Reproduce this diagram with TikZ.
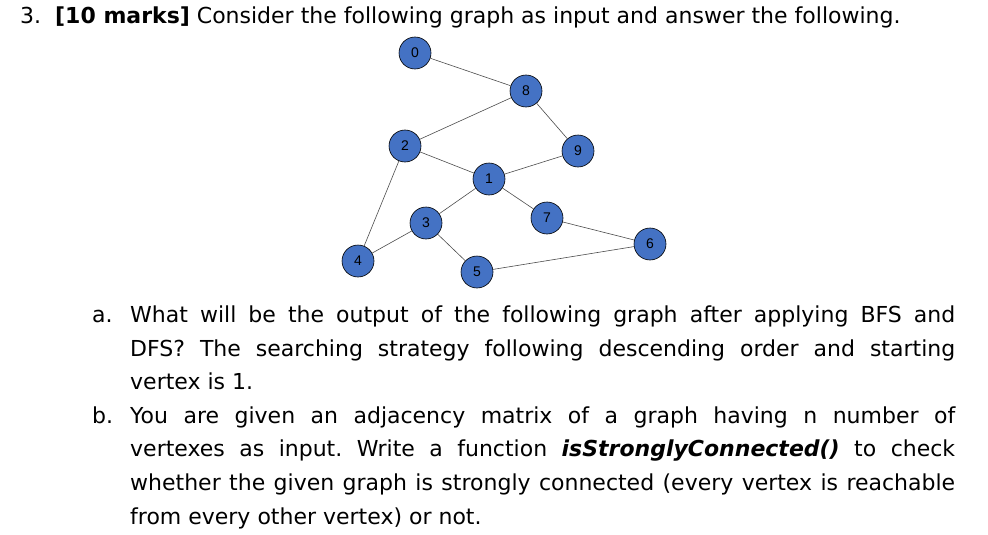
\documentclass[tikz,border=0pt]{standalone}
\usepackage{fontspec}
\setmainfont{DejaVu Sans}
\newfontfamily\digfont{Liberation Sans}
\definecolor{nodeblue}{RGB}{68,114,196}
\begin{document}
\frenchspacing
\begin{tikzpicture}[x=1pt,y=-1pt,
  vtx/.style={circle,draw=black,line width=0.6pt,fill=nodeblue,minimum size=32pt,inner sep=0pt,font=\digfont\fontsize{14}{14}\selectfont},
  edge/.style={draw=black!70,line width=0.6pt},
  txt/.style={anchor=base west,inner sep=0pt,font=\fontsize{22}{22}\selectfont}]
\useasboundingbox (0,0) rectangle (988,535);
\node[vtx] (n0) at (415,53) {0};
\node[vtx] (n8) at (526,91) {8};
\node[vtx] (n2) at (405,146) {2};
\node[vtx] (n9) at (578,151) {9};
\node[vtx] (n1) at (489,179) {1};
\node[vtx] (n3) at (426,223) {3};
\node[vtx] (n7) at (547,218) {7};
\node[vtx] (n6) at (650,244) {6};
\node[vtx] (n4) at (358,261) {4};
\node[vtx] (n5) at (477,272) {5};
\draw[edge] (n0)--(n8) (n8)--(n2) (n8)--(n9) (n2)--(n1) (n1)--(n9) (n2)--(n4)
  (n1)--(n3) (n1)--(n7) (n7)--(n6) (n3)--(n4) (n3)--(n5) (n5)--(n6);
\node[txt] (h) at (20,24) {3.\ \ \textbf{[10 marks]} Consider the following graph as input and answer the following.};
\node[txt] (a1) at (92,322) {a.};
\node[txt] (a2) at (130,322) {\makebox[825pt][s]{What will be the output of the following graph after applying BFS and}};
\node[txt] (a3) at (130,356) {\makebox[825pt][s]{DFS? The searching strategy following descending order and starting}};
\node[txt] (a4) at (130,389) {vertex is 1.};
\node[txt] (b1) at (92,423) {b.};
\node[txt] (b2) at (130,423) {\makebox[825pt][s]{You are given an adjacency matrix of a graph having n number of}};
\node[txt] (b3) at (130,456) {\makebox[825pt][s]{vertexes as input. Write a function \textbf{\textit{isStronglyConnected()}} to check}};
\node[txt] (b4) at (130,490) {\makebox[825pt][s]{whether the given graph is strongly connected (every vertex is reachable}};
\node[txt] (b5) at (130,524) {from every other vertex) or not.};
\end{tikzpicture}
\end{document}
